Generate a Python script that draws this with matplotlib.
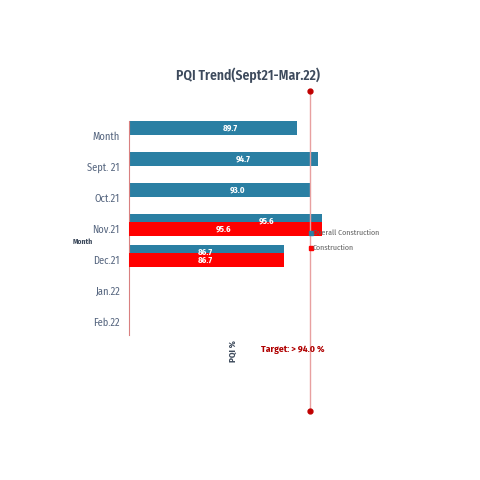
import numpy as np
import matplotlib
matplotlib.use("Agg")
import matplotlib.pyplot as plt

plt.rcParams['font.family'] = ['Fira Sans Condensed', 'PT Sans Narrow', 'Liberation Sans', 'DejaVu Sans']

# data
months = ["Month", "Sept. 21", "Oct.21", "Nov.21", "Dec.21", "Jan.22", "Feb.22"]
overall = [89.7, 94.7, 93.0, 95.6, 86.7, np.nan, np.nan]
construction = [np.nan, np.nan, np.nan, 95.6, 86.7, np.nan, np.nan]
target_x = 92.9

# where the value labels sit inside the bars (data x)
lab_x_overall = [74.0, 77.0, 75.8, 82.6, 68.1, np.nan, np.nan]
lab_x_constr = [np.nan, np.nan, np.nan, 72.5, 68.1, np.nan, np.nan]

blue = "#2a7fa3"
red = "#ff0000"
dark = "#3d4a5c"
tick_col = "#55657f"

fig = plt.figure(figsize=(4.8, 4.8), dpi=100)
ax = fig.add_axes([128.5/480, 1-335/480, (340.4-128.5)/480, (335-121)/480])

y = np.arange(len(months))
off = -0.26
ax.barh(y + off, overall, height=0.45, left=0, color=blue, zorder=2)
ax.barh(y, construction, height=0.44, left=0, color=red, zorder=3)

for i in range(len(months)):
    if not np.isnan(overall[i]):
        ax.text(lab_x_overall[i], y[i] + off, f"{overall[i]:.1f}", color="white",
                fontsize=6.3, fontweight="bold", ha="center", va="center", zorder=5)
    if not np.isnan(construction[i]):
        ax.text(lab_x_constr[i], y[i], f"{construction[i]:.1f}", color="white",
                fontsize=6.3, fontweight="bold", ha="center", va="center", zorder=5)

ax.set_xlim(50, 100)
ax.set_ylim(6.42, -0.48)
ax.set_yticks(y)
ax.set_yticklabels(months, fontsize=7.5, color=tick_col)
ax.tick_params(axis="y", length=0, pad=6.5)
ax.set_xticks([])
for s in ["top", "right", "bottom"]:
    ax.spines[s].set_visible(False)
ax.spines["left"].set_color("#d98080")
ax.spines["left"].set_linewidth(0.8)

# target line with end dots, runs past the axes
ax.plot([target_x, target_x], [-1.46, 8.87], color="#e8a0a0", lw=1.0,
        clip_on=False, zorder=4)
ax.plot([target_x, target_x], [-1.46, 8.87], ls="none", marker="o", ms=3.5,
        color="#c00000", clip_on=False, zorder=4)

fig.text(248.5/480, 1-75/480, "PQI Trend(Sept21-Mar.22)", fontsize=9.8,
         fontweight="semibold", color=dark, ha="center", va="center")
fig.text(83/480, 1-242/480, "Month", fontsize=5.5, fontweight="bold",
         color=dark, ha="center", va="center")
fig.text(233/480, 1-351/480, "PQI %", fontsize=6.5, fontweight="bold",
         color=dark, ha="center", va="center", rotation=90)
fig.text(292.5/480, 1-350/480, "Target: > 94.0 %", fontsize=6.9,
         fontweight="bold", color="#b00000", ha="center", va="center")

# legend drawn by hand
fig.text(313/480, 1-233/480, "Overall Construction", fontsize=5.7,
         color="#606060", ha="left", va="center")
fig.text(313/480, 1-248/480, "Construction", fontsize=5.7,
         color="#606060", ha="left", va="center")
lg = fig.add_axes([0, 0, 1, 1], facecolor="none")
lg.set_xlim(0, 480)
lg.set_ylim(480, 0)
lg.axis("off")
lg.plot([311], [233], marker="s", ms=3, color=blue, ls="none")
lg.plot([311], [248], marker="s", ms=3, color=red, ls="none")

fig.savefig("out.png", dpi=100)
